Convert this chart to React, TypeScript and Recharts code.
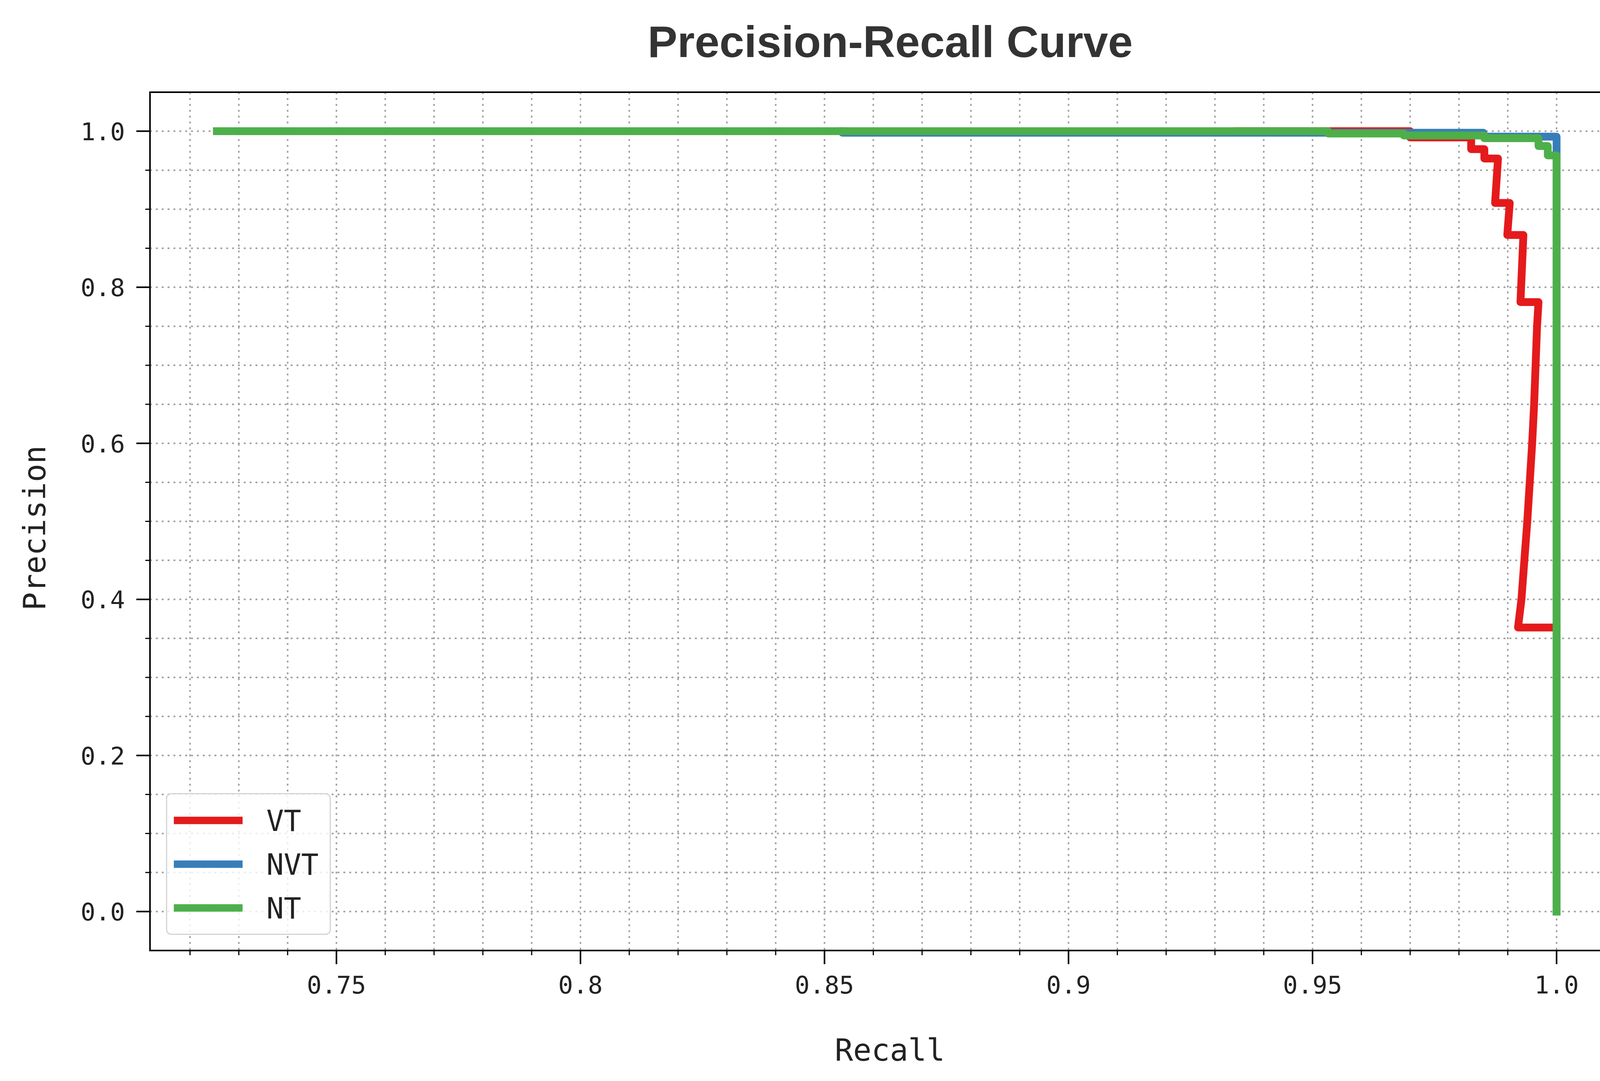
import { CartesianGrid, Legend, Line, LineChart, ReferenceArea, XAxis, YAxis } from "recharts";

// recall / precision
const VT_RECALL = [
  0.9345, 0.97, 0.97, 0.9825, 0.9825, 0.9852, 0.9852, 0.988, 0.9874, 0.9904, 0.9899, 0.9932,
  0.9926, 0.9963, 0.996, 0.9957, 0.9954, 0.995, 0.9945, 0.994, 0.9934, 0.9928, 0.9921, 1.0,
];
const VT_PRECISION = [
  1.0, 1.0, 0.992, 0.992, 0.977, 0.977, 0.965, 0.965, 0.908, 0.908, 0.867, 0.867,
  0.781, 0.781, 0.75, 0.7, 0.65, 0.6, 0.55, 0.5, 0.45, 0.4, 0.364, 0.364,
];

const NVT_RECALL = [0.8537, 0.8537, 0.985, 0.985, 1.0, 1.0];
const NVT_PRECISION = [1.0, 0.998, 0.998, 0.993, 0.993, 0.0];

const NT_RECALL = [
  0.7255, 0.9532, 0.9532, 0.9687, 0.9687, 0.9852, 0.9852, 0.9963, 0.9963, 0.9982, 0.9982, 1.0, 1.0,
];
const NT_PRECISION = [
  1.0, 1.0, 0.997, 0.997, 0.9945, 0.9945, 0.991, 0.991, 0.981, 0.981, 0.969, 0.969, 0.0,
];

const SERIES_NAMES = ["VT", "NVT", "NT"];
const SERIES_COLORS = ["#E41A1C", "#377EB8", "#4DAF4A"];

const X_TICKS = [
  0.72, 0.73, 0.74, 0.75, 0.76, 0.77, 0.78, 0.79, 0.8, 0.81, 0.82, 0.83, 0.84, 0.85, 0.86,
  0.87, 0.88, 0.89, 0.9, 0.91, 0.92, 0.93, 0.94, 0.95, 0.96, 0.97, 0.98, 0.99, 1.0, 1.01,
];
const Y_TICKS = [
  0, 0.05, 0.1, 0.15, 0.2, 0.25, 0.3, 0.35, 0.4, 0.45, 0.5, 0.55, 0.6, 0.65, 0.7, 0.75, 0.8,
  0.85, 0.9, 0.95, 1.0,
];

const X_DOMAIN: [number, number] = [0.7118, 1.0137];
const Y_DOMAIN: [number, number] = [-0.05, 1.05];

const MONO = "'DejaVu Sans Mono', monospace";
const TEXT = "#222";
const LW = 20;

const toPoints = (r: number[], p: number[]) => r.map((x, i) => ({ recall: x, precision: p[i] }));

const SERIES_DATA = [
  toPoints(VT_RECALL, VT_PRECISION),
  toPoints(NVT_RECALL, NVT_PRECISION),
  toPoints(NT_RECALL, NT_PRECISION),
];

const isMultiple = (v: number, step: number) => Math.abs(v / step - Math.round(v / step)) < 1e-6;

const fmtX = (v: number) => {
  const s = String(Math.round(v * 100) / 100);
  return s.includes(".") ? s : s + ".0";
};

const XTick = (props: any) => {
  const { x, y, payload } = props;
  const major = isMultiple(payload.value, 0.05);
  return (
    <g>
      <line x1={x} x2={x} y1={y} y2={y + (major ? 35 : 12)} stroke="#000" strokeWidth={major ? 4 : 3} />
      {major && (
        <text x={x} y={y + 110} textAnchor="middle" fontFamily={MONO} fontSize={63} fill={TEXT}>
          {fmtX(payload.value)}
        </text>
      )}
    </g>
  );
};

const YTick = (props: any) => {
  const { x, y, payload } = props;
  const major = isMultiple(payload.value, 0.2);
  return (
    <g>
      <line x1={x - (major ? 35 : 12)} x2={x} y1={y} y2={y} stroke="#000" strokeWidth={major ? 4 : 3} />
      {major && (
        <text x={x - 64} y={y + 23} textAnchor="end" fontFamily={MONO} fontSize={63} fill={TEXT}>
          {payload.value.toFixed(1)}
        </text>
      )}
    </g>
  );
};

const renderLegend = () => (
  <svg width={422} height={363}>
    <rect x={1.5} y={1.5} width={419} height={360} rx={12} fill="#fff" fillOpacity={0.8} stroke="#d4d4d4" strokeWidth={3} />
    {SERIES_NAMES.map((name, i) => {
      const cy = 70 + 112 * i;
      return (
        <g key={name}>
          <line x1={20} x2={196} y1={cy} y2={cy} stroke={SERIES_COLORS[i]} strokeWidth={19} />
          <text x={257} y={cy + 27} fontFamily={MONO} fontSize={74} fill={TEXT}>
            {name}
          </text>
        </g>
      );
    })}
  </svg>
);

export default function App() {
  return (
    <div style={{ position: "relative", width: 4223, height: 2767, background: "#fff" }}>
      <style>{"body{margin:0}"}</style>
      <div
        style={{
          position: "absolute",
          left: 2279,
          top: 50,
          transform: "translateX(-50%)",
          whiteSpace: "nowrap",
          fontFamily: "'Liberation Sans', Arial, sans-serif",
          fontWeight: 700,
          fontSize: 114,
          lineHeight: "114px",
          color: "#333",
        }}
      >
        Precision-Recall Curve
      </div>
      <LineChart width={4223} height={2767} margin={{ top: 236, right: 67, bottom: 34, left: 84 }}>
        <CartesianGrid stroke="#a3a3a3" strokeWidth={4} strokeDasharray="5 10" />
        <XAxis
          type="number"
          dataKey="recall"
          domain={X_DOMAIN}
          allowDataOverflow
          ticks={X_TICKS}
          interval={0}
          height={300}
          axisLine={false}
          tickLine={false}
          tickSize={0}
          tickMargin={0}
          tick={XTick}
          label={{
            content: (p: any) => (
              <text
                x={p.viewBox.x + p.viewBox.width / 2 + 8}
                y={p.viewBox.y + 282}
                textAnchor="middle"
                fontFamily={MONO}
                fontSize={78}
                fill={TEXT}
              >
                Recall
              </text>
            ),
          }}
        />
        <YAxis
          type="number"
          domain={Y_DOMAIN}
          allowDataOverflow
          ticks={Y_TICKS}
          interval={0}
          width={300}
          axisLine={false}
          tickLine={false}
          tickSize={0}
          tickMargin={0}
          tick={YTick}
          label={{
            content: (p: any) => {
              const x = p.viewBox.x + p.viewBox.width - 268;
              const y = p.viewBox.y + p.viewBox.height / 2 + 17;
              return (
                <text
                  x={x}
                  y={y}
                  transform={`rotate(-90, ${x}, ${y})`}
                  textAnchor="middle"
                  fontFamily={MONO}
                  fontSize={78}
                  fill={TEXT}
                >
                  Precision
                </text>
              );
            },
          }}
        />
        {SERIES_NAMES.map((name, i) => (
          <Line
            key={name}
            data={SERIES_DATA[i]}
            dataKey="precision"
            name={name}
            type="linear"
            stroke={SERIES_COLORS[i]}
            strokeWidth={LW}
            strokeLinejoin="round"
            strokeLinecap="square"
            dot={false}
            activeDot={false}
            isAnimationActive={false}
          />
        ))}
        <ReferenceArea
          x1={X_DOMAIN[0]}
          x2={X_DOMAIN[1]}
          y1={Y_DOMAIN[0]}
          y2={Y_DOMAIN[1]}
          fill="none"
          stroke="#000"
          strokeWidth={4}
          ifOverflow="visible"
        />
        <Legend
          layout="vertical"
          align="center"
          verticalAlign="middle"
          wrapperStyle={{ left: 425, top: 2030, width: 422, height: 363 }}
          content={renderLegend}
        />
      </LineChart>
    </div>
  );
}
